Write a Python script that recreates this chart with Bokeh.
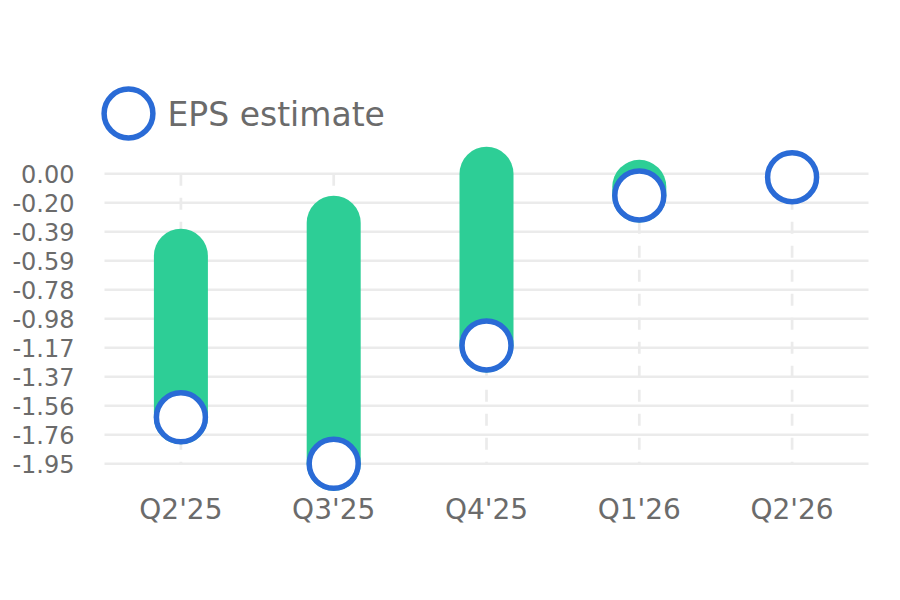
import numpy as np
from bokeh.plotting import figure
from bokeh.models import (FactorRange, Range1d, FixedTicker, PrintfTickFormatter,
                          Legend, LegendItem, Label)
from bokeh.embed import file_html
from bokeh.resources import INLINE

# Quarterly EPS: consensus estimate vs reported result
quarters = ["Q2'25", "Q3'25", "Q4'25", "Q1'26", "Q2'26"]
eps_estimate = [-1.64, -1.953, -1.156, -0.146, -0.023]
eps_actual = [-0.552, -0.33, 0.0, -0.088]          # reported quarters only
reported = quarters[:len(eps_actual)]
legend_label = "EPS estimate"

FONT = "DejaVu Sans"
GREEN = "#2dce96"
BLUE = "#2a6bd6"
TEXT = "#6b6b6b"
GRID = "#ebebeb"

lo = min(eps_estimate + eps_actual)
hi = max(eps_estimate + eps_actual)
span = hi - lo
y_ticks = [float(v) for v in np.linspace(lo, hi, 11)]
n = len(quarters)

p = figure(width=900, height=600,
           x_range=FactorRange(*quarters, range_padding=0.0524,
                               range_padding_units="absolute"),
           y_range=Range1d(lo - 0.099 * span, hi + 0.3183 * span),
           output_backend="svg", toolbar_location=None,
           min_border_left=96, min_border_right=24,
           min_border_top=81, min_border_bottom=108)
p.outline_line_color = None
p.background_fill_color = "white"
p.border_fill_color = "white"
p.xgrid.visible = False
p.ygrid.visible = False

# horizontal guides on the EPS ticks, across the quarter bands
p.segment(x0=[0] * len(y_ticks), y0=y_ticks, x1=[n] * len(y_ticks), y1=y_ticks,
          line_color=GRID, line_width=2.5)

# dashed quarter guides spanning the tick range
p.segment(x0=quarters, y0=[hi] * n, x1=quarters, y1=[lo] * n,
          line_color=GRID, line_width=2.7, line_dash="12 12")

# green bar from reported EPS down to the estimate
p.segment(x0=reported, y0=eps_actual, x1=reported, y1=eps_estimate[:len(eps_actual)],
          line_color=GREEN, line_width=54, line_cap="round")

# estimate markers
circ = p.scatter(x=quarters, y=eps_estimate, marker="circle", size=49,
                 fill_color="white", line_color=BLUE, line_width=5.5)

# legend swatch, with its caption set as a separate label
legend = Legend(items=[LegendItem(label=" ", renderers=[circ])],
                location="top_left", margin=-29, padding=0, spacing=0,
                glyph_width=122, glyph_height=122, label_standoff=0,
                label_text_font=FONT, label_text_font_size="33px",
                background_fill_alpha=0, border_line_alpha=0)
p.add_layout(legend)
p.add_layout(Label(x=71, y=378.5, x_units="screen", y_units="screen",
                   text=legend_label, text_font=FONT, text_font_size="33px",
                   text_color=TEXT, text_baseline="middle", text_align="left"))

# axes: labels only
p.yaxis.ticker = FixedTicker(ticks=y_ticks)
p.yaxis.formatter = PrintfTickFormatter(format="%.2f")
for ax in (p.xaxis, p.yaxis):
    ax.axis_line_color = None
    ax.major_tick_line_color = None
    ax.minor_tick_line_color = None
    ax.major_tick_out = 0
    ax.major_tick_in = 0
    ax.major_label_text_font = FONT
    ax.major_label_text_color = TEXT
p.yaxis.major_label_text_font_size = "24px"
p.yaxis.major_label_standoff = 22
p.xaxis.major_label_text_font_size = "28px"
p.xaxis.major_label_standoff = 0

open("out.html", "w").write(file_html(p, INLINE))
